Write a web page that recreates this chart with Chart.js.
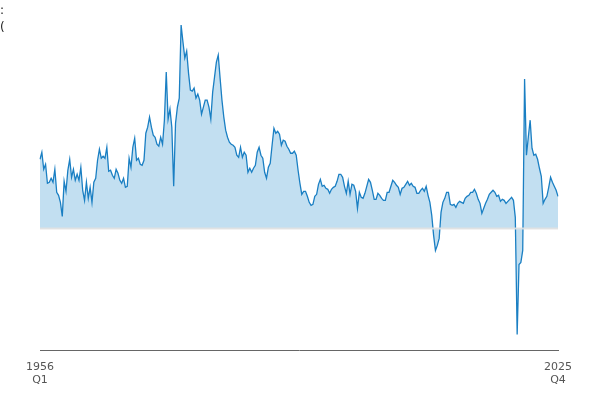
<!DOCTYPE html>
<html lang="en">
<head>
  <meta charset="UTF-8">
  <title>Quarterly series 1956-2025</title>
  <script src="https://cdn.jsdelivr.net/npm/chart.js"></script>
  <style>
    body { margin: 0; background: #fff; }
    .wrap { position: relative; width: 600px; height: 400px; }
    .corner { position: absolute; left: 0; font: 12px "DejaVu Sans", sans-serif; color: #222; }
  </style>
</head>
<body>
  <div class="wrap">
    <canvas id="seriesChart" width="600" height="400"></canvas>
    <span class="corner" style="top:3px">:</span>
    <span class="corner" style="top:20px">(</span>
  </div>

  <script>
    // Time axis: quarterly, 1956 Q1 to 2025 Q4
    const startYear = 1956;
    const endYear = 2025;
    const quarterNames = ["Q1", "Q2", "Q3", "Q4"];

    // Values, one per quarter
    const values = [
      6.9, 7.6, 5.9, 6.4, 4.5, 4.6, 5.0, 4.6, 5.9, 3.6, 3.3, 2.6, 1.2, 4.7, 3.7, 5.8,
      6.9, 5.1, 5.9, 4.8, 5.4, 4.8, 6.1, 3.8, 2.8, 4.6, 3.0, 4.1, 2.6, 4.6, 5.0, 6.8,
      7.9, 7.0, 7.2, 7.0, 8.1, 5.7, 5.8, 5.3, 5.0, 5.9, 5.5, 4.8, 4.5, 5.0, 4.1, 4.2,
      7.0, 6.1, 8.1, 9.0, 6.8, 7.0, 6.4, 6.3, 6.8, 9.5, 10.1, 11.1, 10.1, 9.3, 9.1, 8.4,
      8.2, 9.1, 8.4, 10.8, 15.6, 10.9, 11.9, 10.1, 4.2, 10.5, 12.1, 13.0, 20.3, 18.6, 17.0, 17.7,
      15.5, 13.8, 13.7, 14.0, 13.0, 13.4, 12.8, 11.4, 12.1, 12.8, 12.8, 12.1, 10.9, 13.6, 15.1, 16.6,
      17.3, 15.0, 12.8, 11.1, 9.8, 9.1, 8.6, 8.4, 8.3, 8.1, 7.3, 7.1, 8.1, 7.1, 7.6, 7.3,
      5.6, 6.0, 5.6, 6.0, 6.3, 7.6, 8.1, 7.3, 7.0, 5.6, 5.0, 6.1, 6.5, 8.3, 10.0, 9.5,
      9.7, 9.4, 8.3, 8.8, 8.7, 8.2, 7.9, 7.5, 7.5, 7.7, 7.3, 5.8, 4.5, 3.4, 3.7, 3.7,
      3.2, 2.6, 2.3, 2.4, 3.2, 3.4, 4.4, 4.9, 4.2, 4.3, 4.0, 3.9, 3.5, 3.9, 4.1, 4.2,
      4.7, 5.4, 5.4, 5.1, 4.2, 3.5, 4.7, 3.4, 4.4, 4.3, 3.7, 2.0, 3.6, 3.1, 3.0, 3.5,
      4.2, 4.9, 4.6, 3.8, 2.9, 2.9, 3.5, 3.3, 3.0, 2.8, 2.8, 3.6, 3.6, 4.2, 4.8, 4.6,
      4.3, 4.1, 3.4, 4.0, 4.1, 4.4, 4.7, 4.3, 4.5, 4.2, 4.1, 3.5, 3.5, 3.8, 4.0, 3.7,
      4.2, 3.3, 2.6, 1.3, -0.7, -2.2, -1.7, -1.0, 1.6, 2.6, 3.0, 3.6, 3.6, 2.4, 2.3, 2.4,
      2.1, 2.5, 2.7, 2.6, 2.5, 3.0, 3.2, 3.3, 3.6, 3.6, 3.9, 3.5, 2.9, 2.5, 1.5, 2.0,
      2.5, 2.9, 3.4, 3.6, 3.8, 3.6, 3.2, 3.3, 2.7, 2.9, 2.8, 2.5, 2.7, 2.9, 3.1, 2.8,
      1.1, -10.6, -3.6, -3.4, -2.2, 14.9, 7.3, 9.1, 10.8, 8.0, 7.3, 7.4, 6.9, 6.0, 5.2, 2.5,
      2.9, 3.2, 4.1, 5.1, 4.6, 4.2, 3.8, 3.2
    ];

    // Build category labels as two-line [year, quarter]
    const labels = [];
    for (let y = startYear; y <= endYear; y++) {
      quarterNames.forEach(q => labels.push([String(y), q]));
    }

    // Draws the light zero line on top of the area
    const zeroLine = {
      id: "zeroLine",
      afterDatasetsDraw(chart) {
        const { ctx, chartArea, scales } = chart;
        const y0 = scales.y.getPixelForValue(0);
        ctx.save();
        ctx.strokeStyle = "rgba(225, 225, 225, 0.9)";
        ctx.lineWidth = 2;
        ctx.beginPath();
        ctx.moveTo(chartArea.left, y0);
        ctx.lineTo(chartArea.right, y0);
        ctx.stroke();
        ctx.restore();
      }
    };

    const seriesChart = new Chart(document.getElementById("seriesChart"), {
      type: "line",
      data: {
        labels: labels,
        datasets: [{
          data: values,
          borderColor: "#1a7fc3",
          borderWidth: 1.3,
          backgroundColor: "#c2dff1",
          fill: "origin",
          pointRadius: 0,
          tension: 0
        }]
      },
      options: {
        responsive: false,
        animation: false,
        layout: { padding: { left: 40, right: 42, top: 18, bottom: 11 } },
        plugins: {
          legend: { display: false },
          tooltip: { enabled: false }
        },
        scales: {
          x: {
            offset: false,
            grid: { display: false },
            border: { display: true, color: "#666", width: 1 },
            ticks: {
              autoSkip: false,
              maxRotation: 0,
              padding: 2,
              color: "#555",
              font: { family: "DejaVu Sans", size: 11 },
              callback: function (val, i) {
                return (i === 0 || i === labels.length - 1) ? this.getLabelForValue(val) : "";
              }
            }
          },
          y: {
            display: false,
            min: -12.2,
            max: 21.0
          }
        }
      },
      plugins: [zeroLine]
    });
  </script>
</body>
</html>
